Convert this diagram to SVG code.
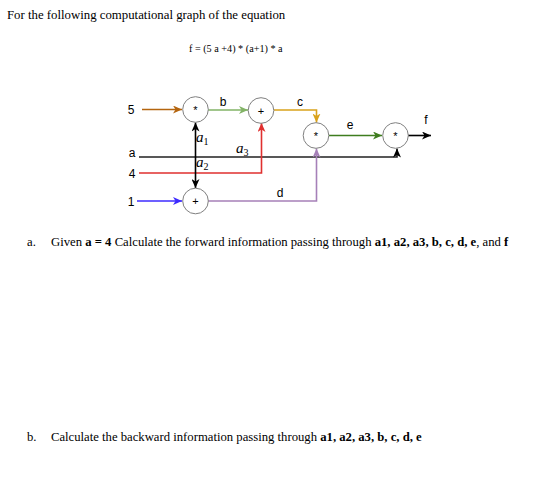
<svg xmlns="http://www.w3.org/2000/svg" width="547" height="496" viewBox="0 0 547 496">
<style>
.doc{font-family:"Liberation Serif","Times New Roman",serif;fill:#000}
.lbl{font-family:"Liberation Sans",Arial,sans-serif;font-size:12px;fill:#000;text-anchor:middle}
.op{font-family:"Liberation Sans",Arial,sans-serif;font-size:11px;fill:#000;text-anchor:middle}
.math{font-family:"Liberation Serif","Times New Roman",serif;font-style:italic;font-size:15px;fill:#000}
.sub{font-style:normal;font-size:10px}
.node{fill:#fff;stroke:#7f7f7f;stroke-width:1}
.ln{fill:none;stroke-width:1.6}
</style>
<defs>
<marker id="mBrown" markerUnits="userSpaceOnUse" markerWidth="10" markerHeight="8" refX="9" refY="4" orient="auto"><path d="M0,0 L9,4 L0,8 L2.5,4 z" fill="#b4650f"/></marker>
<marker id="mLGreen" markerUnits="userSpaceOnUse" markerWidth="10" markerHeight="8" refX="9" refY="4" orient="auto"><path d="M0,0 L9,4 L0,8 L2.5,4 z" fill="#82b366"/></marker>
<marker id="mOrange" markerUnits="userSpaceOnUse" markerWidth="10" markerHeight="8" refX="9" refY="4" orient="auto"><path d="M0,0 L9,4 L0,8 L2.5,4 z" fill="#d9a21b"/></marker>
<marker id="mDGreen" markerUnits="userSpaceOnUse" markerWidth="10" markerHeight="8" refX="9" refY="4" orient="auto"><path d="M0,0 L9,4 L0,8 L2.5,4 z" fill="#3f7d1f"/></marker>
<marker id="mBlack" markerUnits="userSpaceOnUse" markerWidth="10" markerHeight="8" refX="9" refY="4" orient="auto-start-reverse"><path d="M0,0 L9,4 L0,8 L2.5,4 z" fill="#000"/></marker>
<marker id="mRed" markerUnits="userSpaceOnUse" markerWidth="10" markerHeight="8" refX="9" refY="4" orient="auto"><path d="M0,0 L9,4 L0,8 L2.5,4 z" fill="#e0302f"/></marker>
<marker id="mBlue" markerUnits="userSpaceOnUse" markerWidth="10" markerHeight="8" refX="9" refY="4" orient="auto"><path d="M0,0 L9,4 L0,8 L2.5,4 z" fill="#3d2bff"/></marker>
<marker id="mPurple" markerUnits="userSpaceOnUse" markerWidth="10" markerHeight="8" refX="9" refY="4" orient="auto"><path d="M0,0 L9,4 L0,8 L2.5,4 z" fill="#a680b8"/></marker>
</defs>
<rect width="547" height="496" fill="#fff"/>
<text class="doc" x="7" y="18.5" font-size="12.8">For the following computational graph of the equation</text>
<text class="doc" x="189" y="52" font-size="10.2">f = (5 a +4) * (a+1) * a</text>

<g id="connectors">
<path class="ln" d="M142,109.5 H182" stroke="#b4650f" marker-end="url(#mBrown)"/>
<path class="ln" d="M208,110 H248" stroke="#82b366" marker-end="url(#mLGreen)"/>
<path class="ln" d="M274,110 H316.5 V122.5" stroke="#d9a21b" marker-end="url(#mOrange)"/>
<path class="ln" d="M329,135.5 H382" stroke="#3f7d1f" marker-end="url(#mDGreen)"/>
<path class="ln" d="M408,135.5 H431" stroke="#000" marker-end="url(#mBlack)"/>
<path class="ln" d="M139,157 H397 V148.5" stroke="#222" marker-end="url(#mBlack)"/>
<path class="ln" d="M139,173 H261.5 V123" stroke="#e0302f" marker-end="url(#mRed)"/>
<path class="ln" d="M137,201 H182" stroke="#3d2bff" marker-end="url(#mBlue)"/>
<path class="ln" d="M208,201 H316.5 V148.5" stroke="#a680b8" marker-end="url(#mPurple)"/>
<path class="ln" d="M195.5,122.5 V188" stroke="#000" marker-start="url(#mBlack)" marker-end="url(#mBlack)"/>
</g>

<g id="labels">
<text class="lbl" x="131" y="113.5">5</text>
<text class="lbl" x="132" y="157">a</text>
<text class="lbl" x="132" y="177.5">4</text>
<text class="lbl" x="131" y="205.5">1</text>
<text class="lbl" x="223" y="105.5">b</text>
<text class="lbl" x="300" y="105.5">c</text>
<text class="lbl" x="350" y="129">e</text>
<text class="lbl" x="426" y="124">f</text>
<text class="lbl" x="280" y="197">d</text>
<text class="math" x="196" y="142">a<tspan class="sub" dy="3">1</tspan></text>
<text class="math" x="196" y="167">a<tspan class="sub" dy="3">2</tspan></text>
<text class="math" x="236" y="153">a<tspan class="sub" dy="3">3</tspan></text>
</g>

<g id="n1"><circle class="node" cx="195.5" cy="109.5" r="12.8"/><text class="op" x="195.5" y="114">*</text></g>
<g id="n2"><circle class="node" cx="261" cy="110.5" r="12.8"/><text class="op" x="261" y="114.5">+</text></g>
<g id="n3"><circle class="node" cx="316" cy="135.5" r="12.8"/><text class="op" x="316" y="140">*</text></g>
<g id="n4"><circle class="node" cx="395.5" cy="135.5" r="12.8"/><text class="op" x="395.5" y="140">*</text></g>
<g id="n5"><circle class="node" cx="195.5" cy="201" r="12.8"/><text class="op" x="195.5" y="205">+</text></g>

<text class="doc" x="27" y="246" font-size="12.7">a.</text>
<text class="doc" x="51" y="246" font-size="12.7">Given <tspan font-weight="bold">a = 4</tspan> Calculate the forward information passing through <tspan font-weight="bold">a1, a2, a3, b, c, d, e</tspan>, and <tspan font-weight="bold">f</tspan></text>
<text class="doc" x="27" y="441" font-size="12.7">b.</text>
<text class="doc" x="51" y="441" font-size="12.7">Calculate the backward information passing through <tspan font-weight="bold">a1, a2, a3, b, c, d, e</tspan></text>
</svg>
